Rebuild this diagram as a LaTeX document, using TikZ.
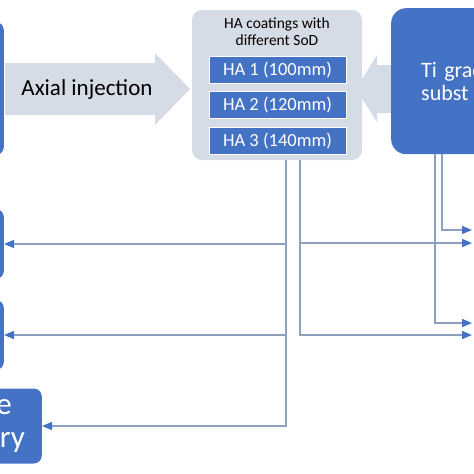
\documentclass[tikz,border=0pt]{standalone}
\usepackage{fontspec}
\setmainfont{Carlito}
\usetikzlibrary{positioning,arrows.meta,calc}
\definecolor{officeblue}{HTML}{4472C4}
\definecolor{paleblue}{HTML}{D6DCE5}
\definecolor{linkgray}{HTML}{8E9FBF}

\begin{document}
\begin{tikzpicture}[x=1pt, y=-1pt,
  every node/.style={align=center, inner sep=0pt},
  bluebox/.style={fill=officeblue, rounded corners=8pt, text=white},
  habox/.style={fill=officeblue, draw=white, line width=0.8pt, text=white, minimum width=137pt, minimum height=27pt, font=\fontsize{18.5}{20}\selectfont},
  link/.style={draw=linkgray, line width=1.4pt, -{Triangle[length=10pt, width=8pt, color=officeblue]}}
]
\useasboundingbox (0,0) rectangle (474,474);
\clip (0,0) rectangle (474,474);

% wide arrows
\fill[paleblue] (5,63) -- (155,63) -- (155,53) -- (190,89) -- (155,125) -- (155,115) -- (5,115) -- cycle;
\fill[paleblue] (395,65) -- (377,65) -- (377,55) -- (356,89) -- (377,122) -- (377,113) -- (395,113) -- cycle;
\node[font=\fontsize{23}{26}\selectfont] (axial) at (87,89) {Axial injection};

% coatings
\node[fill=paleblue, rounded corners=10pt, minimum width=170pt, minimum height=150pt] (grp) at (277,85) {};
\node[font=\fontsize{15.5}{17}\selectfont] (title) at (277,32) {HA coatings with\\different SoD};
\node[habox] (ha1) at (277.5,70) {HA 1 (100mm)};
\node[habox, below=7.5pt of ha1] (ha2) {HA 2 (120mm)};
\node[habox, below=7.5pt of ha2] (ha3) {HA 3 (140mm)};

% substrate
\node[bluebox, rounded corners=15pt, anchor=north west, minimum height=146pt, text width=120pt, inner xsep=30pt, align=left, font=\fontsize{22}{23}\selectfont] (ti) at (391,8) {Ti grad\\subst};

% left column
\node[bluebox, anchor=east, minimum width=80pt, minimum height=133pt] (left1) at (4,88.5) {};
\node[bluebox, anchor=east, minimum width=80pt, minimum height=70pt] (left2) at (4,244) {};
\node[bluebox, anchor=east, minimum width=80pt, minimum height=70pt] (left3) at (4,335) {};
\node[bluebox, anchor=east, minimum height=75pt, text width=60pt, inner xsep=17pt, align=right, font=\fontsize{31}{33}\selectfont] (left4) at (42,426) {e\rule{13pt}{0pt}\\ry};

% right ends
\coordinate (out1) at (472,230);
\coordinate (out2) at (472,243);
\coordinate (out3) at (472,323);
\coordinate (out4) at (472,335);

\draw[link] ($(grp.south)+(9,0)$) |- (left2.east);
\draw[link] ($(grp.south)+(9,0)$) |- (left3.east);
\draw[link] ($(grp.south)+(9,0)$) |- (left4.east);
\draw[link] ($(grp.south)+(23,0)$) |- (out2);
\draw[link] ($(grp.south)+(23,0)$) |- (out4);
\draw[link] ($(ti.south west)+(51,0)$) |- (out1);
\draw[link] ($(ti.south west)+(44,0)$) |- (out3);
\end{tikzpicture}
\end{document}
